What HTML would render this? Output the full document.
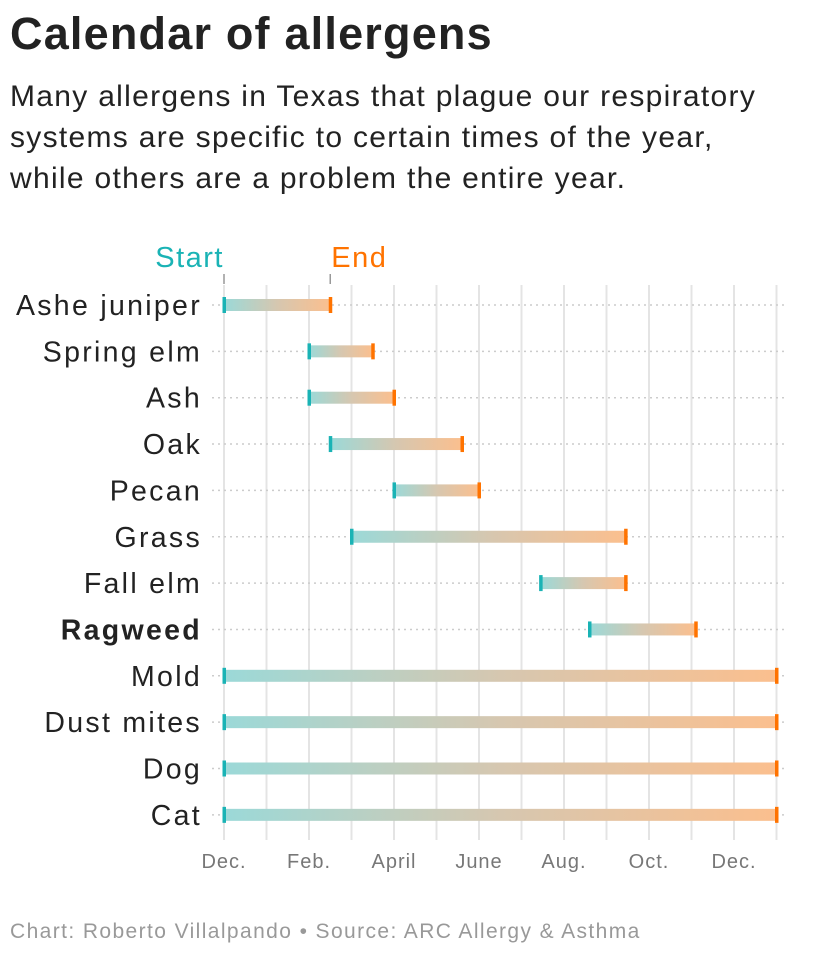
<!DOCTYPE html>
<html><head><meta charset="utf-8">
<style>
body{margin:0;background:#fff;font-family:"Liberation Sans",sans-serif;}
#wrap{position:relative;width:820px;height:962px;overflow:hidden}
h1{position:absolute;left:10px;top:8px;margin:0;font-size:45px;font-weight:bold;color:#222;letter-spacing:1.2px;white-space:nowrap}
.sub{position:absolute;left:10px;top:76px;font-size:30px;line-height:41px;color:#222;width:810px;letter-spacing:1.3px;white-space:nowrap}
.foot{position:absolute;left:10px;top:920px;font-size:21px;color:#999;letter-spacing:1.4px;white-space:nowrap}
</style></head>
<body><div id="wrap">
<h1>Calendar of allergens</h1>
<div class="sub">Many allergens in Texas that plague our respiratory<br>systems are specific to certain times of the year,<br>while others are a problem the entire year.</div>
<svg id="chart" width="820" height="962" style="position:absolute;left:0;top:0">
<defs><linearGradient id="g" x1="0" x2="1"><stop offset="0" stop-color="#9bd9d8"/><stop offset="0.5" stop-color="#d6c7b0"/><stop offset="1" stop-color="#fbbf8e"/></linearGradient></defs>
</svg>
<div class="foot">Chart: Roberto Villalpando • Source: ARC Allergy &amp; Asthma</div>
</div>
<script>
const categories=["Ashe juniper","Spring elm","Ash","Oak","Pecan","Grass","Fall elm","Ragweed","Mold","Dust mites","Dog","Cat"];
const startMonths=[0,2,2,2.5,4,3,7.45,8.6,0,0,0,0];
const endMonths=[2.5,3.5,4,5.6,6,9.45,9.45,11.1,13,13,13,13];
const tickLabels=["Dec.","Feb.","April","June","Aug.","Oct.","Dec."];
const tickValues=[0,2,4,6,8,10,12];
const svg=document.getElementById('chart');
const NS='http://www.w3.org/2000/svg';
const x=v=>224+v*42.5;
const y=i=>305+i*46.35;
function mk(t,a){const e=document.createElementNS(NS,t);for(const k in a)e.setAttribute(k,a[k]);svg.appendChild(e);return e;}
for(let m=0;m<=13;m++){const l=mk('line',{x1:x(m),x2:x(m),y1:285,y2:840,stroke:'#e4e4e4','stroke-width':2});

}
tickValues.forEach((v,i)=>{const t=mk('text',{x:x(v),y:868,'text-anchor':'middle','font-size':20,fill:'#777','letter-spacing':1});t.textContent=tickLabels[i];

});
categories.forEach((c,i)=>{
const yy=y(i);
const d=mk('line',{x1:212,x2:786,y1:yy,y2:yy,stroke:'#ccc','stroke-width':1.5,'stroke-dasharray':'2 4'});


const t=mk('text',{x:202,y:yy+10,'text-anchor':'end','font-size':28.5,fill:'#222','letter-spacing':2.3,'font-weight':c==='Ragweed'?'bold':'normal'});t.textContent=c;


const b=mk('rect',{x:x(startMonths[i]),y:yy-6,width:x(endMonths[i])-x(startMonths[i]),height:12,fill:'url(#g)'});


const s=mk('rect',{x:x(startMonths[i])-1.5,y:yy-8,width:3.5,height:16,fill:'#1ab3b5'});


const e=mk('rect',{x:x(endMonths[i])-1.5,y:yy-8,width:3.5,height:16,fill:'#ff7300'});


});
const st=mk('text',{x:x(0),y:267,'text-anchor':'end','font-size':29,fill:'#1ab3b5','letter-spacing':1.5});st.textContent='Start';


const en=mk('text',{x:x(endMonths[0])+1,y:267,'text-anchor':'start','font-size':29,fill:'#ff7300','letter-spacing':1.5});en.textContent='End';


[x(0),x(endMonths[0])].forEach(xx=>{const l=mk('line',{x1:xx,x2:xx,y1:274,y2:284,stroke:'#999','stroke-width':1.5});

});
</script>
</body></html>
